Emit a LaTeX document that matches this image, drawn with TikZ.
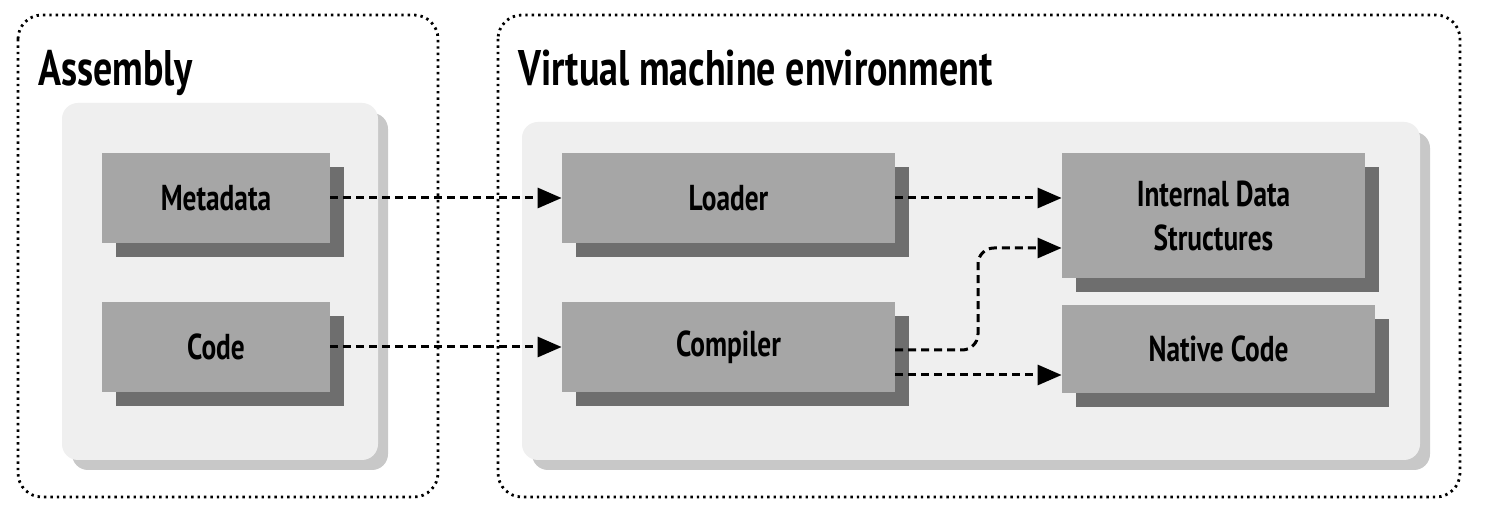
\documentclass[tikz,border=0pt]{standalone}
\usepackage{fontspec}
\setmainfont{PT Sans}[FakeStretch=0.76]
\usetikzlibrary{arrows.meta}
\definecolor{boxg}{HTML}{A6A6A6}
\definecolor{shad}{HTML}{6E6E6E}
\definecolor{panel}{HTML}{EFEFEF}
\definecolor{pshad}{HTML}{C8C8C8}
\newcommand{\grbox}[6]{%
  \fill[shad] (#2+14,#3+14) rectangle (#4+14,#5+14);
  \node[fill=boxg,minimum width={(#4-#2)*0.5pt},minimum height={(#5-#3)*0.5pt},lab,inner sep=0] (#1) at ({(#2+#4)/2},{(#3+#5)/2}) {#6};}
\begin{document}
\begin{tikzpicture}[x=0.5pt,y=-0.5pt,
  outer/.style={draw,line width=1.4pt,dash pattern=on 1.2pt off 2pt,rounded corners=12pt},
  title/.style={anchor=base west,font=\bfseries\fontsize{25}{27}\selectfont,inner sep=0},
  lab/.style={font=\bfseries\fontsize{18}{20}\selectfont,align=center},
  conn/.style={line width=1.5pt,dash pattern=on 4pt off 2.5pt,-{Triangle[length=12pt,width=10pt]}}]
\useasboundingbox (0,0) rectangle (1485,512);
\fill[white] (0,0) rectangle (1485,512);
\draw[outer] (18,15) rectangle (438,497);
\draw[outer] (498,15) rectangle (1460,497);
\node[title] (t1) at (38,86) {Assembly};
\node[title] (t2) at (518,86) {Virtual machine environment};
\fill[pshad,rounded corners=8pt] (72,113) rectangle (388,470);
\fill[panel,rounded corners=8pt] (62,103) rectangle (378,460);
\fill[pshad,rounded corners=8pt] (532,132) rectangle (1430,470);
\fill[panel,rounded corners=8pt] (522,122) rectangle (1420,460);
\grbox{meta}{102}{153}{330}{243}{Metadata}
\grbox{code}{102}{302}{330}{392}{Code}
\grbox{load}{562}{153}{895}{243}{Loader}
\grbox{comp}{562}{302}{895}{392}{Compiler}
\grbox{ids}{1062}{153}{1365}{278}{Internal Data\\[2pt]Structures}
\grbox{nat}{1062}{305}{1375}{393}{Native Code}
\coordinate (c1) at (895,350);
\coordinate (c2) at (895,375);
\draw[conn] (meta.east) -- (load.west);
\draw[conn] (code.east) -- (comp.west);
\draw[conn] (load.east) -- (load.east -| ids.west);
\draw[conn,rounded corners=8pt] (c1) -- (978,350) -- (978,248) -- (ids.west |- c1 |- 0,248);
\draw[conn] (c2) -- (ids.west |- c2);
\end{tikzpicture}
\end{document}
